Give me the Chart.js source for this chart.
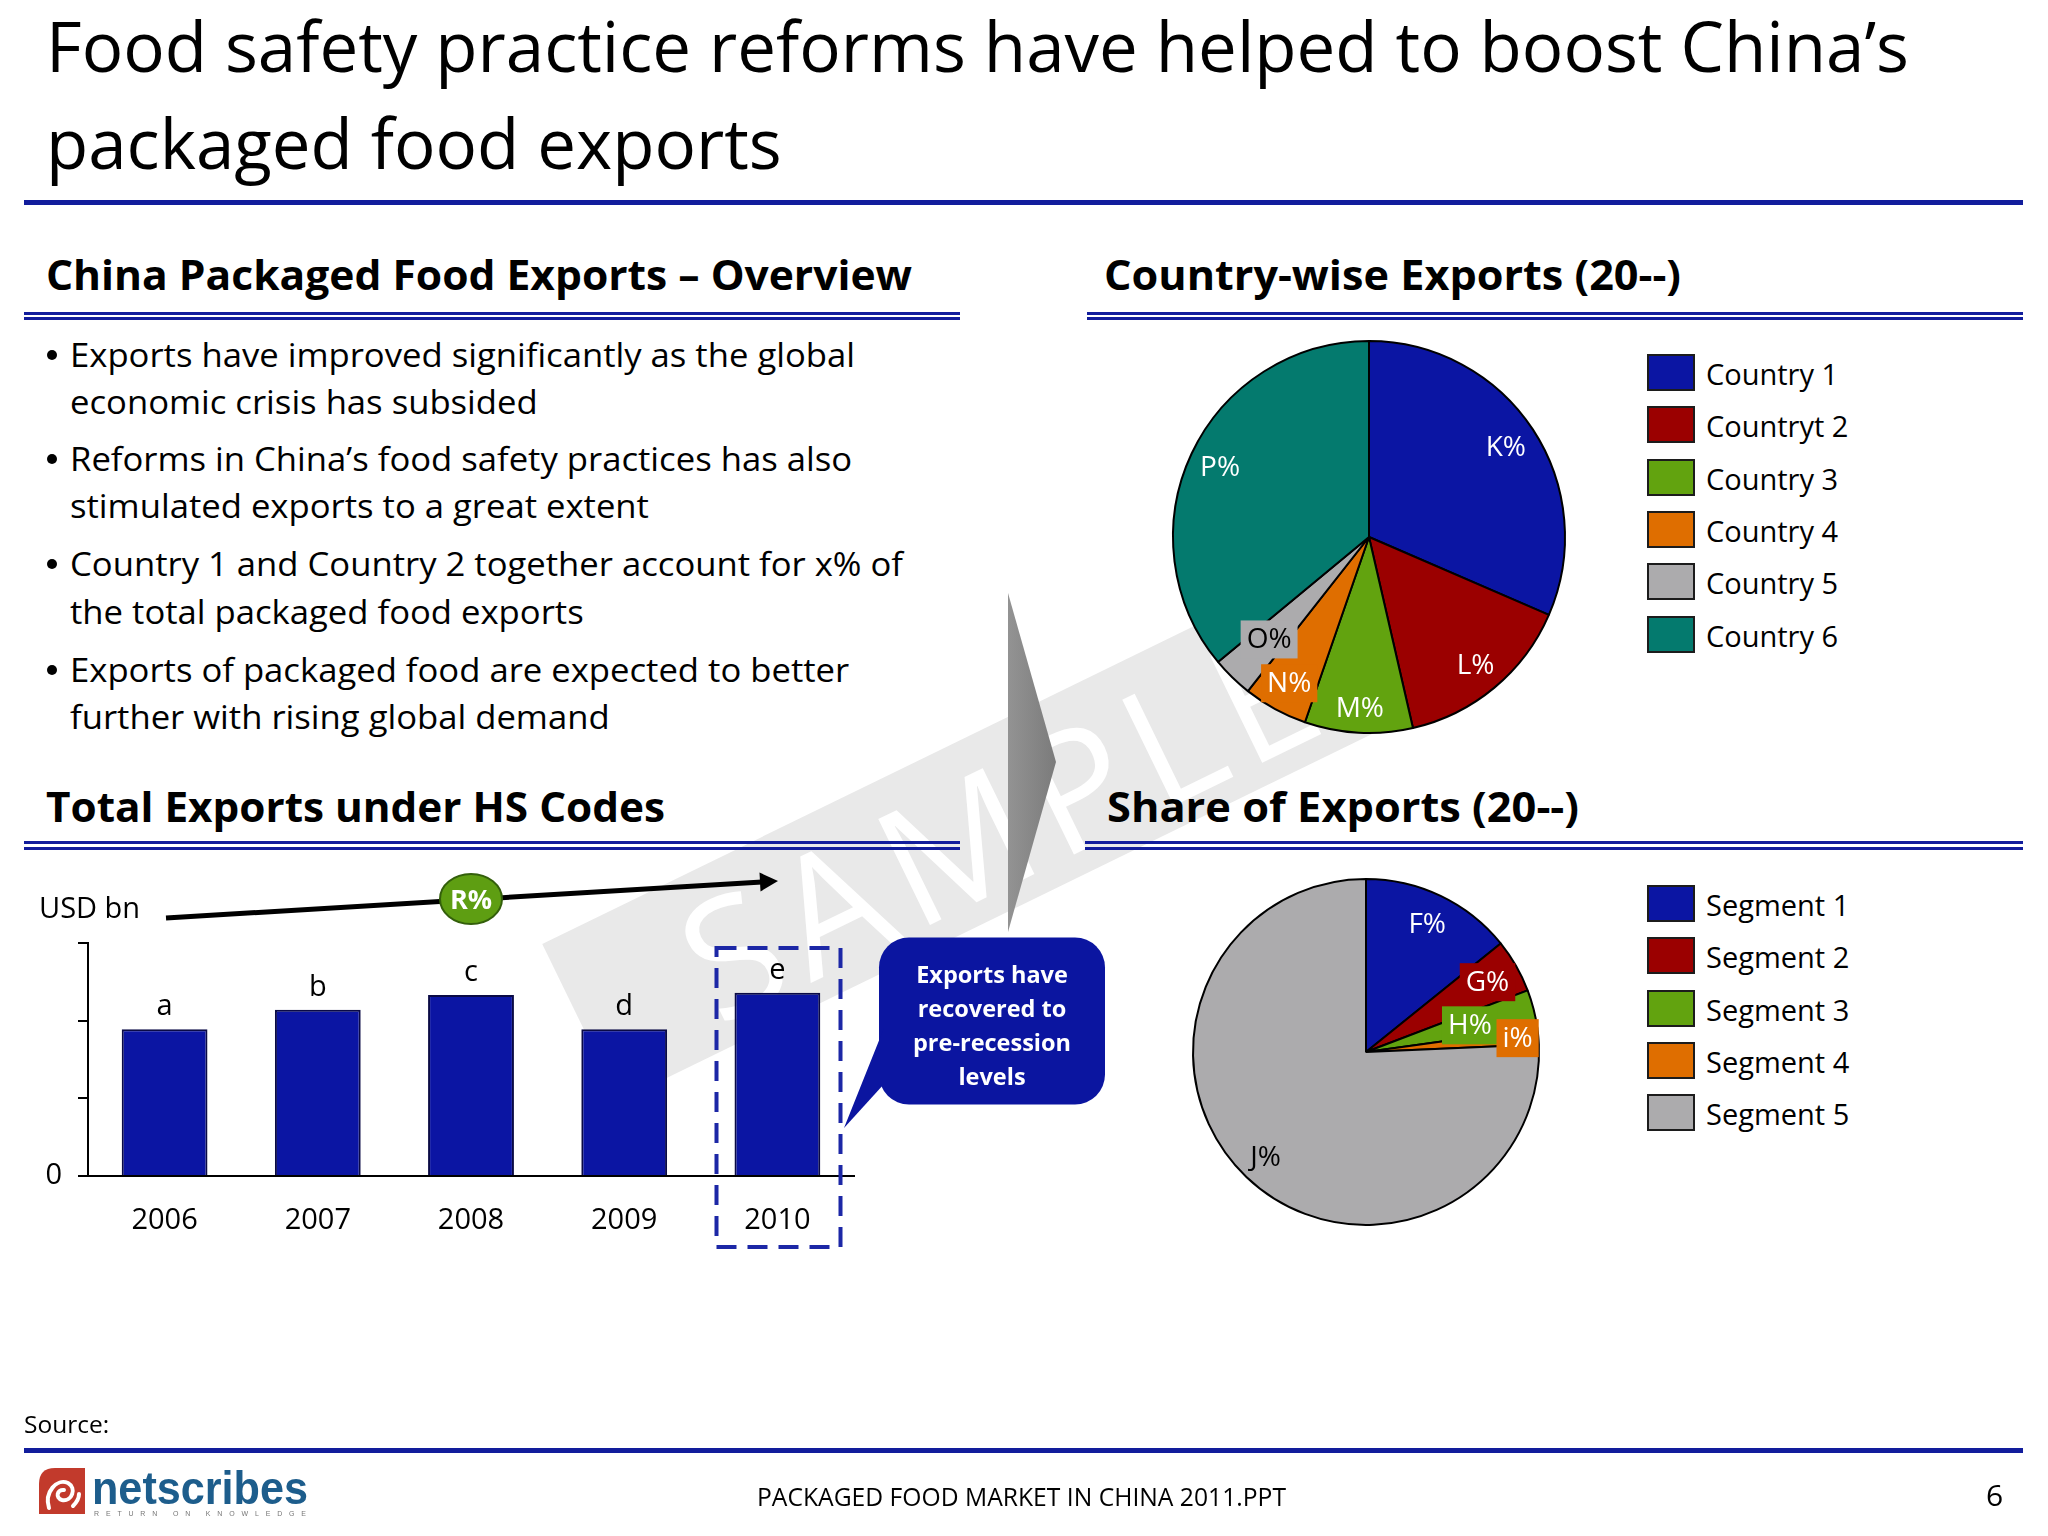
<!DOCTYPE html>
<html>
<head>
<meta charset="utf-8">
<title>China packaged food exports</title>
<script src="https://cdn.jsdelivr.net/npm/chart.js@4.4.1/dist/chart.umd.min.js"></script>
<style>
  html, body { margin: 0; padding: 0; background: #fff; }
  body { width: 2048px; height: 1536px; position: relative; overflow: hidden;
         font-family: "Open Sans", sans-serif; color: #000; }
  .abs { position: absolute; white-space: nowrap; }
  .fit { transform-origin: 0 50%; }
  .rule { position: absolute; background: #121d9c; }
  .head { position: absolute; font-weight: 700; font-size: 42px; line-height: 50px; white-space: nowrap; }
  .bline { position: absolute; left: 70px; font-size: 33px; line-height: 47px; white-space: nowrap; }
  .bullet { position: absolute; left: 47px; width: 10px; height: 10px; border-radius: 50%; background: #000; }
  .lg-box { position: absolute; width: 48px; height: 37px; box-sizing: border-box; border: 2px solid #1c1c1c; }
  .lg-text { position: absolute; font-size: 29px; line-height: 37px; white-space: nowrap; }
  canvas { position: absolute; }
  #band { position: absolute; left: 530px; top: 716px; width: 1000px; height: 175px;
          background: #e9e9e9; transform: rotate(-26deg); }
  #stamp { position: absolute; left: 1002px; top: 819px; font-size: 165px; line-height: 1;
           letter-spacing: 12px; color: #fff; transform: translate(-50%, -50%) rotate(-26deg); white-space: nowrap; }
  .callout { position: absolute; left: 879px; top: 957px; width: 226px; text-align: center;
             color: #fff; font-weight: 700; font-size: 23.5px; line-height: 34px; }
</style>
</head>
<body>

<div id="band"></div>
<div id="stamp">SAMPLE</div>

<!-- title -->
<div class="abs fit title" id="title1" style="left:46px;top:-3px;font-size:70px;line-height:97px;">Food safety practice reforms have helped to boost China’s</div>
<div class="abs fit title" id="title2" style="left:46px;top:94px;font-size:70px;line-height:97px;">packaged food exports</div>
<div class="rule" style="left:24px;top:200px;width:1999px;height:5px;"></div>

<!-- section headers -->
<div class="head fit" id="h1" style="left:46px;top:249px;">China Packaged Food Exports – Overview</div>
<div class="head fit" id="h2" style="left:1104px;top:249px;">Country-wise Exports (20--)</div>
<div class="rule" style="left:24px;top:312px;width:936px;height:3px;"></div>
<div class="rule" style="left:24px;top:317px;width:936px;height:3px;"></div>
<div class="rule" style="left:1087px;top:312px;width:936px;height:3px;"></div>
<div class="rule" style="left:1087px;top:317px;width:936px;height:3px;"></div>

<div class="head fit" id="h3" style="left:46px;top:781px;">Total Exports under HS Codes</div>
<div class="head fit" id="h4" style="left:1107px;top:781px;">Share of Exports (20--)</div>
<div class="rule" style="left:24px;top:841px;width:936px;height:3px;"></div>
<div class="rule" style="left:24px;top:847px;width:936px;height:3px;"></div>
<div class="rule" style="left:1085px;top:841px;width:938px;height:3px;"></div>
<div class="rule" style="left:1085px;top:847px;width:938px;height:3px;"></div>

<div id="bullets"></div>

<!-- charts -->
<canvas id="barChart" width="880" height="360" style="left:0;top:900px;"></canvas>
<canvas id="pieCountry" width="420" height="420" style="left:1159px;top:327px;"></canvas>
<canvas id="pieSegment" width="380" height="380" style="left:1176px;top:862px;"></canvas>

<div id="legendCountry"></div>
<div id="legendSegment"></div>

<!-- annotations -->
<svg class="abs" style="left:0;top:0;" width="2048" height="1536">
  <defs>
    <linearGradient id="chev" x1="0" x2="1" y1="0" y2="0">
      <stop offset="0" stop-color="#939393"/>
      <stop offset="1" stop-color="#7b7b7b"/>
    </linearGradient>
  </defs>
  <polygon points="1008,593 1056,762 1008,932" fill="url(#chev)"/>
  <line x1="166" y1="918" x2="762" y2="882" stroke="#000" stroke-width="5"/>
  <polygon points="778,881 760.5,891.5 759.5,872.5" fill="#000"/>
  <ellipse cx="471" cy="899" rx="31" ry="25" fill="#5e9e12" stroke="#335f0b" stroke-width="2"/>
  <text x="471" y="909" text-anchor="middle" fill="#fff" font-family="Open Sans" font-weight="700" font-size="27">R%</text>
  <rect x="716.5" y="948" width="124" height="299" fill="none" stroke="#1c27a6" stroke-width="4" stroke-dasharray="20 11"/>
  <rect x="879" y="937.5" width="226" height="167" rx="30" ry="30" fill="#0b15a0"/>
  <polygon points="884,1028 884,1084 844,1128" fill="#0b15a0"/>
  <!-- logo -->
  <g transform="translate(39,1468)">
    <path d="M0 16 Q0 0 16 0 L46 0 L46 46 L0 46 Z" fill="#c23a2c"/>
    <path d="M10 40 C 5 24, 18 10, 29 15 C 38 20, 33 34, 23 32 C 16 30, 18 21, 25 22 M 34 38 C 38 34, 40 30, 40 26"
          fill="none" stroke="#fff" stroke-width="4" stroke-linecap="round"/>
    <text x="53" y="36" font-family="Liberation Sans" font-weight="700" font-size="46" fill="#1d5d8c" textLength="216" lengthAdjust="spacingAndGlyphs">netscribes</text>
    <text x="55" y="48" font-family="Liberation Sans" font-size="7" fill="#777" textLength="212" lengthAdjust="spacing">RETURN ON KNOWLEDGE</text>
  </g>
</svg>

<div class="abs" style="left:39px;top:889px;font-size:29px;line-height:36px;">USD bn</div>
<div class="callout">Exports have<br>recovered to<br>pre-recession<br>levels</div>

<!-- footer -->
<div class="abs" style="left:24px;top:1409px;font-size:24.5px;line-height:30px;">Source:</div>
<div class="rule" style="left:24px;top:1448px;width:1999px;height:5px;"></div>
<div class="abs fit" id="footTitle" style="left:757px;top:1480px;font-size:26px;line-height:32px;">PACKAGED FOOD MARKET IN CHINA 2011.PPT</div>
<div class="abs" style="left:1986px;top:1477px;font-size:30px;line-height:36px;">6</div>

<script>
// ---- data ----
const years = ['2006', '2007', '2008', '2009', '2010'];
const exportValues = [1.89, 2.14, 2.33, 1.89, 2.36];
const exportLabels = ['a', 'b', 'c', 'd', 'e'];
const yTickValues = [0, 1, 2, 3];
const yTickLabels = ['0', '', '', ''];

const countries = ['Country 1', 'Countryt 2', 'Country 3', 'Country 4', 'Country 5', 'Country 6'];
const countryShares = [31.5, 14.9, 8.9, 5.3, 3.4, 36.0];
const countryLabels = ['K%', 'L%', 'M%', 'N%', 'O%', 'P%'];

const segments = ['Segment 1', 'Segment 2', 'Segment 3', 'Segment 4', 'Segment 5'];
const segmentShares = [14.2, 5.0, 3.6, 1.5, 75.7];
const segmentLabels = ['F%', 'G%', 'H%', 'i%', 'J%'];

const bulletPoints = [
    ['Exports have improved significantly as the global', 'economic crisis has subsided'],
    ['Reforms in China’s food safety practices has also', 'stimulated exports to a great extent'],
    ['Country 1 and Country 2 together account for x% of', 'the total packaged food exports'],
    ['Exports of packaged food are expected to better', 'further with rising global demand']
];

// ---- styles ----
const blue = '#0b15a3', red = '#9b0000', green = '#62a30f', orange = '#df6e00', grey = '#acabad', teal = '#047a6e';
const countryColors = [blue, red, green, orange, grey, teal];
const segmentColors = [blue, red, green, orange, grey];

// bullets
const bulletBox = document.getElementById('bullets');
const bulletBaselines = [[367, 414], [471, 518], [576, 624], [682, 729]];
const bulletLines = [];
bulletPoints.forEach((pair, b) => {
    const dot = document.createElement('div');
    dot.className = 'bullet';
    dot.style.top = (bulletBaselines[b][0] - 17) + 'px';
    bulletBox.appendChild(dot);
    pair.forEach((txt, k) => {
        const d = document.createElement('div');
        d.className = 'bline fit';
        d.textContent = txt;
        d.style.top = (bulletBaselines[b][k] - 36.3) + 'px';
        bulletBox.appendChild(d);
        bulletLines.push(d);
    });
});

// legends
function buildLegend(id, names, colors, top) {
    const box = document.getElementById(id);
    names.forEach((n, i) => {
        const y = top + i * 52.3;
        const sw = document.createElement('div');
        sw.className = 'lg-box';
        sw.style.left = '1647px';
        sw.style.top = y + 'px';
        sw.style.background = colors[i];
        box.appendChild(sw);
        const t = document.createElement('div');
        t.className = 'lg-text';
        t.style.left = '1706px';
        t.style.top = (y + 1) + 'px';
        t.textContent = n;
        box.appendChild(t);
    });
}
buildLegend('legendCountry', countries, countryColors, 354);
buildLegend('legendSegment', segments, segmentColors, 885);

// squeeze text horizontally to the reference widths
function scaleFor(el, width) {
    return width / el.getBoundingClientRect().width;
}
function applyScale(el, s) {
    el.style.transform = 'scaleX(' + s + ')';
}
const tScale = scaleFor(document.getElementById('title1'), 1863);
applyScale(document.getElementById('title1'), tScale);
applyScale(document.getElementById('title2'), tScale);
[['h1', 866], ['h2', 577], ['h3', 619], ['h4', 472], ['footTitle', 529]].forEach(([id, w]) => {
    const el = document.getElementById(id);
    applyScale(el, scaleFor(el, w));
});
const bScale = scaleFor(bulletLines[0], 785);
bulletLines.forEach(el => applyScale(el, bScale));

// ---- charts ----
Chart.defaults.font.family = '"Open Sans", sans-serif';
Chart.defaults.color = '#000';

const barLabelPlugin = {
    id: 'barLabels',
    afterDatasetsDraw(chart, args, opts) {
        const ctx = chart.ctx;
        ctx.save();
        ctx.font = opts.size + 'px "Open Sans"';
        ctx.fillStyle = '#000';
        ctx.textAlign = 'center';
        ctx.textBaseline = 'alphabetic';
        chart.getDatasetMeta(0).data.forEach((bar, i) => {
            ctx.fillText(opts.labels[i], bar.x, bar.y - opts.gap);
        });
        ctx.restore();
    }
};

const sliceLabelPlugin = {
    id: 'sliceLabels',
    afterDatasetsDraw(chart, args, opts) {
        const ctx = chart.ctx;
        const colors = chart.data.datasets[0].backgroundColor;
        ctx.save();
        ctx.font = opts.size + 'px "Open Sans"';
        ctx.textAlign = 'center';
        ctx.textBaseline = 'middle';
        chart.getDatasetMeta(0).data.forEach((arc, i) => {
            const p = arc.getProps(['x', 'y', 'startAngle', 'endAngle', 'outerRadius']);
            const mid = (p.startAngle + p.endAngle) / 2;
            const r = p.outerRadius * opts.radius[i];
            const x = p.x + Math.cos(mid) * r;
            const y = p.y + Math.sin(mid) * r;
            if (opts.boxed[i]) {
                const w = ctx.measureText(opts.labels[i]).width + 12;
                ctx.fillStyle = colors[i];
                ctx.fillRect(x - w / 2, y - 19, w, 38);
            }
            ctx.fillStyle = opts.colors[i];
            ctx.fillText(opts.labels[i], x, y + 1);
        });
        ctx.restore();
    }
};

let barChart = new Chart(document.getElementById('barChart'), {
    type: 'bar',
    data: {
        labels: years,
        datasets: [{
            data: exportValues,
            backgroundColor: blue,
            borderColor: '#0a0a45',
            borderWidth: 2,
            borderSkipped: 'start',
            barPercentage: 0.56,
            categoryPercentage: 1
        }]
    },
    options: {
        responsive: false,
        animation: false,
        layout: { padding: { top: 43, right: 26, left: 0, bottom: 0 } },
        scales: {
            x: {
                grid: { display: false, drawTicks: false },
                border: { display: true, color: '#000', width: 2 },
                ticks: { font: { size: 29 }, color: '#000', padding: 27 },
                afterFit: s => { s.height = 84; }
            },
            y: {
                min: 0,
                max: 3,
                afterBuildTicks: s => { s.ticks = yTickValues.map(v => ({ value: v })); },
                ticks: { callback: (v, i) => yTickLabels[i], font: { size: 29 }, color: '#000', padding: 16 },
                grid: { drawOnChartArea: false, drawTicks: true, tickLength: 10, color: '#000', lineWidth: 2 },
                border: { display: true, color: '#000', width: 2 },
                afterFit: s => { s.width = 88; }
            }
        },
        plugins: {
            legend: { display: false },
            tooltip: { enabled: false },
            barLabels: { labels: exportLabels, size: 29, gap: 14 }
        }
    },
    plugins: [barLabelPlugin]
});

function pieChart(id, names, values, colors, labelOpts, pad) {
    return new Chart(document.getElementById(id), {
        type: 'pie',
        data: {
            labels: names,
            datasets: [{
                data: values,
                backgroundColor: colors,
                borderColor: '#000',
                borderWidth: 2,
                hoverOffset: 0
            }]
        },
        options: {
            responsive: false,
            animation: false,
            layout: { padding: pad },
            plugins: {
                legend: { display: false },
                tooltip: { enabled: false },
                sliceLabels: labelOpts
            }
        },
        plugins: [sliceLabelPlugin]
    });
}

let countryChart = pieChart('pieCountry', countries, countryShares, countryColors, {
    labels: countryLabels,
    size: 28,
    radius: [0.835, 0.85, 0.875, 0.85, 0.73, 0.84],
    boxed: [false, false, false, true, true, false],
    colors: ['#fff', '#fff', '#fff', '#fff', '#000', '#fff']
}, 13);

let segmentChart = pieChart('pieSegment', segments, segmentShares, segmentColors, {
    labels: segmentLabels,
    size: 28,
    radius: [0.82, 0.81, 0.62, 0.88, 0.84],
    boxed: [false, true, true, true, false],
    colors: ['#fff', '#fff', '#fff', '#fff', '#000']
}, 16);
</script>
</body>
</html>
